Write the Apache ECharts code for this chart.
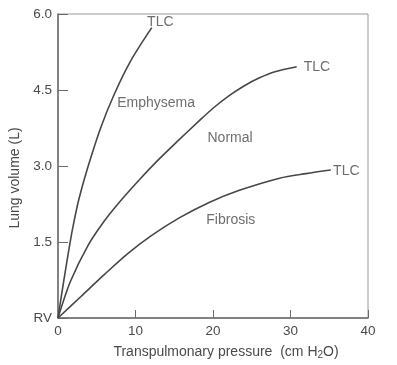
<!DOCTYPE html>
<html>
<head>
<meta charset="utf-8">
<script src="https://cdn.jsdelivr.net/npm/echarts@6/dist/echarts.min.js"></script>
<style>
html,body{margin:0;padding:0;background:#fff;}
#chart{width:397px;height:365px;}
</style>
</head>
<body>
<div id="chart"></div>
<script>
// Pressure-volume curves (x: transpulmonary pressure cm H2O, y: lung volume L above RV)
const emphysemaX = [0, 0.75, 1.5, 2.1, 2.7, 3.8, 5.5, 7.3, 9.4, 12.1];
const emphysemaY = [0, 0.74, 1.44, 1.93, 2.35, 2.95, 3.75, 4.43, 5.08, 5.73];
const normalX = [0, 1.6, 3.9, 6, 8, 10.5, 13, 15.5, 18, 20, 22, 24, 26, 28, 30.8];
const normalY = [0, 0.72, 1.44, 1.92, 2.3, 2.73, 3.13, 3.5, 3.86, 4.14, 4.38, 4.58, 4.74, 4.86, 4.96];
const fibrosisX = [0, 3, 6, 9, 12, 15.7, 19.5, 23.4, 28.6, 32, 35.2];
const fibrosisY = [0, 0.43, 0.86, 1.27, 1.62, 1.98, 2.28, 2.52, 2.76, 2.85, 2.92];

const xTicks = [0, 10, 20, 30, 40];
const yTicks = ['RV', '1.5', '3.0', '4.5', '6.0'];

const annotationText = ['Emphysema', 'Normal', 'Fibrosis', 'TLC', 'TLC', 'TLC'];
const annotationX = [12.65, 22.2, 22.3, 13.2, 33.4, 37.2];
const annotationY = [4.24, 3.55, 1.94, 5.84, 4.96, 2.9];

const zip = (xs, ys) => xs.map((x, i) => [x, ys[i]]);
const font = 'Liberation Sans, Arial, sans-serif';
const txt = '#4a4a4a';

const chart = echarts.init(document.getElementById('chart'), null, {renderer: 'canvas'});
const lineStyle = {color: '#474747', width: 1.6};
const mkLine = (name, data) => ({
  name, type: 'line', data, smooth: 0.3, showSymbol: false, symbol: 'none',
  lineStyle, silent: true, animation: false
});

chart.setOption({
  backgroundColor: '#fff',
  animation: false,
  grid: {left: 58, right: 29, top: 14, bottom: 45, show: true, borderColor: '#9a9a9a', borderWidth: 1},
  xAxis: {
    type: 'value', min: 0, max: 40, interval: 10,
    name: 'Transpulmonary pressure  (cm H{sub|2}O)',
    nameLocation: 'middle', nameGap: 26,
    nameTextStyle: {color: txt, fontFamily: font, fontSize: 14, padding: [0, 0, 0, 26],
      rich: {sub: {fontSize: 10, verticalAlign: 'bottom', padding: [6, 0, 0, 0], color: txt, fontFamily: font}}},
    axisLine: {show: true, lineStyle: {color: '#6a6a6a', width: 1.5}},
    axisTick: {show: true, inside: true, length: 8, lineStyle: {color: '#6a6a6a', width: 1}},
    axisLabel: {color: txt, fontFamily: font, fontSize: 13.5, margin: 6,
      formatter: v => { const i = xTicks.indexOf(v); return i >= 0 ? String(xTicks[i]) : ''; }},
    splitLine: {show: false}
  },
  yAxis: {
    type: 'value', min: 0, max: 6, interval: 1.5,
    name: 'Lung volume (L)', nameLocation: 'middle', nameGap: 35, nameRotate: 90,
    nameTextStyle: {color: txt, fontFamily: font, fontSize: 14, padding: [0, 24, 0, 0]},
    axisLine: {show: true, lineStyle: {color: '#6a6a6a', width: 1.5}},
    axisTick: {show: true, inside: true, length: 10, lineStyle: {color: '#6a6a6a', width: 1}},
    axisLabel: {color: txt, fontFamily: font, fontSize: 13.5, margin: 6,
      formatter: v => { const i = Math.round(v / 1.5); return yTicks[i] || ''; }},
    splitLine: {show: false}
  },
  series: [
    mkLine('Emphysema', zip(emphysemaX, emphysemaY)),
    mkLine('Normal', zip(normalX, normalY)),
    mkLine('Fibrosis', zip(fibrosisX, fibrosisY)),
    {
      type: 'scatter', symbolSize: 0, silent: true, animation: false,
      data: annotationText.map((t, i) => ({name: t, value: [annotationX[i], annotationY[i]]})),
      label: {show: true, position: 'inside', formatter: p => p.name,
        color: txt, fontFamily: font, fontSize: 14}
    }
  ]
});
</script>
</body>
</html>
